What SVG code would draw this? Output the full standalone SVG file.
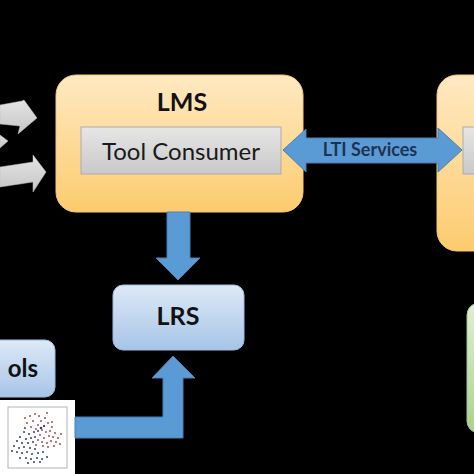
<svg xmlns="http://www.w3.org/2000/svg" width="474" height="474" viewBox="0 0 474 474">
<defs>
<linearGradient id="gOrange" x1="0" y1="0" x2="0" y2="1"><stop offset="0" stop-color="#FFE9C2"/><stop offset="1" stop-color="#FCCB6E"/></linearGradient>
<linearGradient id="gGray" x1="0" y1="0" x2="0" y2="1"><stop offset="0" stop-color="#E6E6E6"/><stop offset="1" stop-color="#C9C9C9"/></linearGradient>
<linearGradient id="gBlue" x1="0" y1="0" x2="0" y2="1"><stop offset="0" stop-color="#DDE9F6"/><stop offset="1" stop-color="#A7C5E8"/></linearGradient>
<linearGradient id="gGreen" x1="0" y1="0" x2="0" y2="1"><stop offset="0" stop-color="#E0F0D4"/><stop offset="1" stop-color="#A9D28E"/></linearGradient>
<linearGradient id="gArrowGray" x1="0" y1="0" x2="0" y2="1"><stop offset="0" stop-color="#E4E4E4"/><stop offset="1" stop-color="#C6C6C6"/></linearGradient>
</defs>
<style>
.orange{fill:url(#gOrange);stroke:#F7C877;stroke-width:1}
.gray{fill:url(#gGray);stroke:#ABABAB;stroke-width:1}
.blue{fill:url(#gBlue);stroke:#9DBCE0;stroke-width:1}
.green{fill:url(#gGreen);stroke:#A0C987;stroke-width:1}
.barrow{fill:#5B9BD5;stroke:#4A7FB2;stroke-width:1}
.garrow{fill:url(#gArrowGray);stroke:#BFBFBF;stroke-width:0.5}
.title{font-family:Lato,"Open Sans",sans-serif;font-weight:bold;fill:#111111;text-anchor:middle}
.label{font-family:Lato,"Open Sans",sans-serif;fill:#1A1A1A;text-anchor:middle}
.lti{font-family:Lato,"Open Sans",sans-serif;font-weight:bold;fill:#1F3251;text-anchor:middle}
.rd{fill:#A0524E}
.bl{fill:#2E3C86}
</style>
<rect width="474" height="474" fill="#000000"/>

<g id="lms">
<rect class="orange" x="56" y="75" width="247" height="137" rx="20"/>
<text class="title" x="182" y="111" font-size="25">LMS</text>
</g>
<g id="tool-consumer">
<rect class="gray" x="81" y="127" width="200" height="47"/>
<text class="label" x="181" y="160" font-size="24">Tool Consumer</text>
</g>

<g id="tool-provider">
<rect class="orange" x="437" y="75" width="60" height="176" rx="20"/>
<rect class="gray" x="463" y="127" width="40" height="47"/>
</g>

<g id="lrs">
<rect class="blue" x="113" y="285" width="131" height="65" rx="10"/>
<text class="title" x="178" y="325" font-size="25">LRS</text>
</g>

<g id="tools">
<rect class="blue" x="-40" y="340" width="95" height="57" rx="10"/>
<text class="title" x="38" y="377" font-size="24" style="text-anchor:end">ols</text>
</g>

<g id="green-box">
<rect class="green" x="467" y="303" width="40" height="130" rx="12"/>
</g>

<g id="scatter">
<rect x="0" y="400" width="75" height="74" fill="#FFFFFF"/>
<rect x="8" y="407" width="59" height="61" fill="none" stroke="#B3B3B3" stroke-width="1"/>
<g class="rd">
<circle cx="25" cy="418" r="1"/><circle cx="30" cy="416" r="1"/><circle cx="35" cy="414" r="1"/><circle cx="39" cy="416" r="1"/>
<circle cx="27" cy="423" r="1"/><circle cx="33" cy="421" r="1"/><circle cx="41" cy="421" r="1"/><circle cx="45" cy="418" r="1"/>
<circle cx="48" cy="423" r="1"/><circle cx="44" cy="426" r="1"/><circle cx="38" cy="425" r="1"/><circle cx="52" cy="427" r="1"/>
<circle cx="50" cy="431" r="1"/><circle cx="46" cy="432" r="1"/><circle cx="42" cy="430" r="1"/><circle cx="55" cy="433" r="1"/>
<circle cx="53" cy="437" r="1"/><circle cx="49" cy="436" r="1"/><circle cx="44" cy="438" r="1"/><circle cx="40" cy="435" r="1"/>
<circle cx="58" cy="438" r="1"/><circle cx="56" cy="442" r="1"/><circle cx="51" cy="441" r="1"/><circle cx="47" cy="443" r="1"/>
<circle cx="42" cy="442" r="1"/><circle cx="38" cy="440" r="1"/><circle cx="61" cy="434" r="1"/><circle cx="36" cy="429" r="1"/>
<circle cx="31" cy="427" r="1"/><circle cx="54" cy="446" r="1"/><circle cx="48" cy="447" r="1"/><circle cx="43" cy="446" r="1"/>
<circle cx="36" cy="445" r="1"/><circle cx="60" cy="444" r="1"/><circle cx="52" cy="422" r="1"/><circle cx="47" cy="413" r="1"/>
</g>
<g class="bl">
<circle cx="24" cy="432" r="1"/><circle cx="29" cy="434" r="1"/><circle cx="34" cy="432" r="1"/><circle cx="38" cy="431" r="1"/>
<circle cx="20" cy="437" r="1"/><circle cx="26" cy="439" r="1"/><circle cx="31" cy="438" r="1"/><circle cx="35" cy="437" r="1"/>
<circle cx="17" cy="441" r="1"/><circle cx="22" cy="443" r="1"/><circle cx="28" cy="443" r="1"/><circle cx="33" cy="442" r="1"/>
<circle cx="14" cy="446" r="1"/><circle cx="19" cy="448" r="1"/><circle cx="24" cy="447" r="1"/><circle cx="30" cy="448" r="1"/>
<circle cx="35" cy="449" r="1"/><circle cx="17" cy="452" r="1"/><circle cx="22" cy="453" r="1"/><circle cx="27" cy="452" r="1"/>
<circle cx="32" cy="454" r="1"/><circle cx="38" cy="453" r="1"/><circle cx="43" cy="452" r="1"/><circle cx="20" cy="458" r="1"/>
<circle cx="26" cy="458" r="1"/><circle cx="31" cy="459" r="1"/><circle cx="37" cy="458" r="1"/><circle cx="42" cy="459" r="1"/>
<circle cx="28" cy="463" r="1"/><circle cx="34" cy="462" r="1"/><circle cx="40" cy="462" r="1"/><circle cx="44" cy="426" r="1"/>
<circle cx="41" cy="428" r="1.3"/><circle cx="12" cy="451" r="1"/><circle cx="47" cy="457" r="1"/><circle cx="25" cy="428" r="1"/>
</g>
</g>

<g id="connectors">
<polygon class="garrow" points="0,105 22,101 24,100 37,118 18,134 20,126 0,124"/>
<polygon class="garrow" points="0,135 8,141 0,148"/>
<polygon class="garrow" points="0,167 33,162 33,155 46,172 33,192 33,182 0,187"/>
<polygon class="barrow" points="283,150 306,129 306,138 438,138 438,128 462,150 438,172 438,163 306,163 306,172"/>
<polygon class="barrow" points="167,212 190,212 190,258 200,258 178,280 156,258 167,258"/>
<polygon class="barrow" points="75,417 163,417 163,378 152,378 173,356 195,378 183,378 183,438 75,438"/>
<text class="lti" x="370" y="156" font-size="18">LTI Services</text>
</g>
</svg>
